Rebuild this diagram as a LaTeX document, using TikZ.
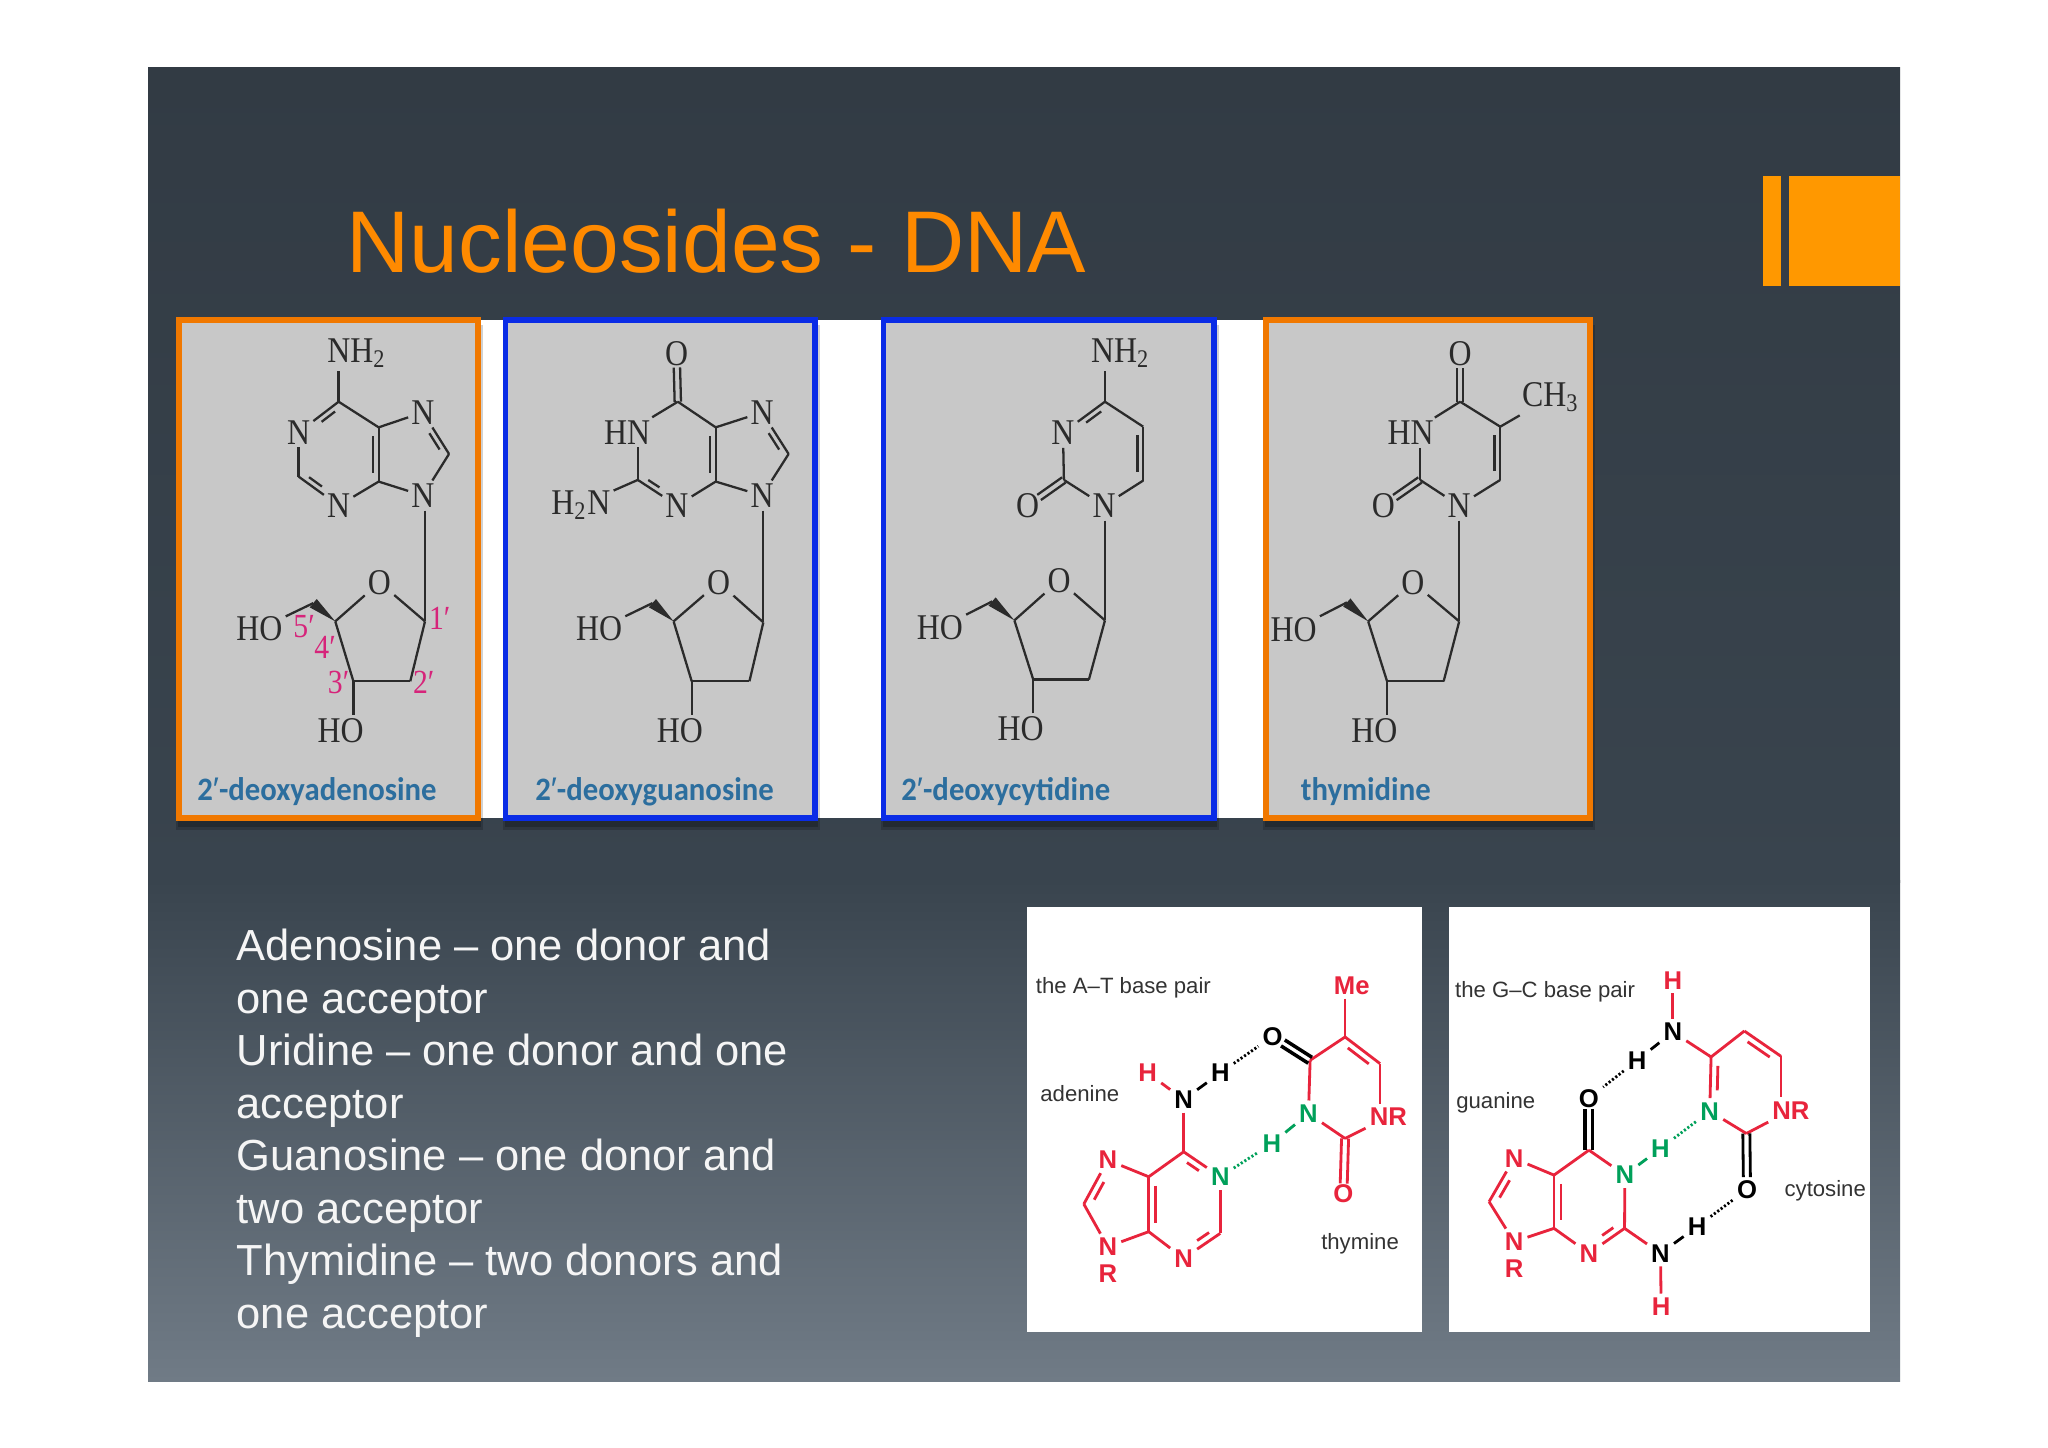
\documentclass[tikz,border=0pt]{standalone}
\usepackage{fontspec}
\setmainfont{Liberation Sans}
\newfontfamily\chemfont[FakeStretch=0.88]{Liberation Serif}
\newfontfamily\labelfont[FakeStretch=0.94]{Carlito}
\newfontfamily\primefont{Liberation Sans}
\usetikzlibrary{calc}
\definecolor{slidetop}{HTML}{323B44}
\definecolor{slidemid}{HTML}{39444E}
\definecolor{slidebot}{HTML}{707B86}
\definecolor{accent}{HTML}{FF9800}
\definecolor{titleor}{HTML}{FF8A00}
\definecolor{frameor}{HTML}{F07800}
\definecolor{frameblue}{HTML}{0A2CE6}
\definecolor{panelgray}{HTML}{C8C8C8}
\definecolor{inkc}{HTML}{2B2B2B}
\definecolor{capc}{HTML}{333333}
\definecolor{pinkc}{HTML}{D6247A}
\definecolor{labelblue}{HTML}{2C6E9E}
\definecolor{redc}{HTML}{E8243C}
\definecolor{greenc}{HTML}{00A05A}
\newcommand\lprime{{\primefont\mdseries ′}}
\tikzset{
  zoomA/.style={xshift=1.70cm,yshift=-3.10cm,x=0.004209cm,y=-0.003333cm},
  zoomB/.style={xshift=8.70cm,yshift=-3.10cm,x=0.004719cm,y=-0.003333cm},
  zoomC/.style={xshift=10.20cm,yshift=-9.00cm,x=0.003333cm,y=-0.003333cm},
  zoomD/.style={xshift=14.40cm,yshift=-9.00cm,x=0.003333cm,y=-0.003333cm},
  mol/.style={line width=0.65pt,color=inkc},
  chem/.style={font=\chemfont\fontsize{10.3}{12}\selectfont,text=inkc,inner sep=0.6pt},
  num/.style={font=\chemfont\fontsize{9.6}{12}\selectfont,text=pinkc,inner sep=0pt},
  lab/.style={font=\labelfont\bfseries\fontsize{9.3}{11}\selectfont,text=labelblue,anchor=base west,inner sep=0pt},
  pair/.style={line width=0.8pt,color=redc},
  ar/.style={font=\bfseries\fontsize{7.3}{8}\selectfont,text=redc,inner sep=0.8pt},
  ak/.style={font=\bfseries\fontsize{7.3}{8}\selectfont,text=black,inner sep=0.8pt},
  ag/.style={font=\bfseries\fontsize{7.3}{8}\selectfont,text=greenc,inner sep=0.8pt},
  capt/.style={font=\fontsize{6.3}{8}\selectfont,text=capc,inner sep=0pt},
  kb/.style={color=black},
  gb/.style={color=greenc},
  hb/.style={line width=0.8pt,dash pattern=on 0.6pt off 0.6pt},
  panelbox/.style={fill=panelgray,line width=1.7pt},
}
\newcommand\dbl[4][]{\draw (#2)--(#3);
  \draw[shorten <=2.5pt,shorten >=2.5pt,#1] ($(#2)!#4!90:(#3)$)--($(#3)!#4!-90:(#2)$);}
\newcommand\dsym[4][]{%
  \draw[#1] ($(#2)!#4!90:(#3)$)--($(#3)!#4!-90:(#2)$);
  \draw[#1] ($(#2)!#4!-90:(#3)$)--($(#3)!#4!90:(#2)$);}
\newcommand\sugarbonds{%
  \draw (so)--(cone); \draw (so)--(cfour); \draw (cfour)--(cthree);
  \draw (cthree)--(ctwo); \draw (ctwo)--(cone);
  \draw (ho3.north -| cthree)--(cthree); \draw (ho5)--(cfive);
  \fill (cfour)--($(cfive)!1.5pt!90:(cfour)$)--($(cfive)!1.6pt!-90:(cfour)$)--cycle;}
\begin{document}
\begin{tikzpicture}[x=0.01cm,y=-0.01cm]
\useasboundingbox (0,0) rectangle (2048,1447);
\fill[white] (0,0) rectangle (2048,1447);
% slide background
\shade[top color=slidetop,bottom color=slidemid] (148,67) rectangle (1900,882);
\shade[top color=slidemid,bottom color=slidebot] (148,880) rectangle (1900,1381);
\fill[accent] (1763,176) rectangle (1781,286);
\fill[accent] (1789,176) rectangle (1900,286);
\node[anchor=base west,inner sep=0pt,text=titleor,font=\fontsize{24.9}{30}\selectfont] (title) at (346,272) {Nucleosides - DNA};
% white strip behind panels
\fill[white] (480,320) rectangle (1266,818);
% shadows and panel boxes
\foreach \xa/\xb in {179/478,505.5/815,883.5/1214,1266/1590}{
  \fill[black,opacity=0.18] (\xa-3,325) rectangle (\xb+5,830);
  \fill[black,opacity=0.22] (\xa-1,325) rectangle (\xb+3,827);
}
\draw[panelbox,draw=frameor] (179,320) rectangle (478,818);
\draw[panelbox,draw=frameblue] (505.5,320) rectangle (815,818);
\draw[panelbox,draw=frameblue] (883.5,320) rectangle (1214,818);
\draw[panelbox,draw=frameor] (1266,320) rectangle (1590,818);

% ---- 2'-deoxyadenosine
\begin{scope}[zoomA,mol,name prefix=pa-]
\node[chem] (nh2) at (443,130) {NH\textsubscript{2}};
\node[chem] (n1) at (305,367) {N};
\node[chem] (n7) at (600,307) {N};
\node[chem] (n3) at (400,587) {N};
\node[chem] (n9) at (600,557) {N};
\coordinate (c6) at (400,275); \coordinate (c5) at (495,352);
\coordinate (c4) at (495,515); \coordinate (c2) at (305,500);
\coordinate (c8) at (662,432);
\draw (nh2.south -| c6)--(c6);
\dbl[shorten >=7pt]{c6}{n1}{1.6pt}
\draw (c6)--(c5); \draw (c5)--(n7);
\dbl[shorten >=6pt]{c8}{n7}{1.6pt}
\draw (c8)--(n9); \draw (n9)--(c4);
\dbl{c4}{c5}{1.6pt}
\draw (c4)--(n3); \draw (n1)--(c2);
\dbl[shorten >=7pt]{c2}{n3}{1.6pt}
\node[chem] (so) at (497,818) {O};
\node[chem] (ho5) at (212,958) {HO};
\node[chem] (ho3) at (405,1262) {HO};
\coordinate (cone) at (605,935); \coordinate (cfour) at (392,935);
\coordinate (cthree) at (435,1115); \coordinate (ctwo) at (570,1115);
\coordinate (cfive) at (340,880);
\draw (n9.south -| cone)--(cone);
\sugarbonds
\node[num] (l5) at (318,950) {5′};
\node[num] (l4) at (368,1012) {4′};
\node[num] (l3) at (400,1118) {3′};
\node[num] (l2) at (602,1118) {2′};
\node[num] (l1) at (640,925) {1′};
\node[lab] (name) at (62,1473) {2\lprime-deoxyadenosine};
\end{scope}

% ---- 2'-deoxyguanosine
\begin{scope}[zoomA,mol,name prefix=pg-]
\node[chem] (ox) at (1202,130) {O};
\node[chem] (hn) at (1085,367) {HN};
\node[chem] (n7) at (1405,307) {N};
\node[chem] (n3) at (1203,587) {N};
\node[chem] (n9) at (1405,557) {N};
\node[chem] (h2n) at (975,585) {H\textsubscript{2}N};
\coordinate (c6) at (1205,275); \coordinate (c5) at (1295,352);
\coordinate (c4) at (1295,515); \coordinate (c2) at (1110,510);
\coordinate (c8) at (1468,432);
\dsym[shorten >=4pt]{c6}{ox}{0.9pt}
\draw (c6)--(hn); \draw (hn.south -| c2)--(c2); \draw (h2n)--(c2);
\draw (c6)--(c5); \draw (c5)--(n7);
\dbl[shorten >=6pt]{c8}{n7}{1.6pt}
\draw (c8)--(n9); \draw (n9)--(c4);
\dbl{c4}{c5}{1.6pt}
\draw (c4)--(n3);
\dbl[shorten >=7pt]{c2}{n3}{1.6pt}
\node[chem] (so) at (1302,818) {O};
\node[chem] (ho5) at (1018,958) {HO};
\node[chem] (ho3) at (1210,1262) {HO};
\coordinate (cone) at (1408,938); \coordinate (cfour) at (1195,935);
\coordinate (cthree) at (1238,1115); \coordinate (ctwo) at (1375,1115);
\coordinate (cfive) at (1145,880);
\draw (n9.south -| cone)--(cone);
\sugarbonds
\node[lab] (name) at (864,1473) {2\lprime-deoxyguanosine};
\end{scope}

% ---- 2'-deoxycytidine
\begin{scope}[zoomB,mol,name prefix=pc-]
\node[chem] (nh2) at (530,130) {NH\textsubscript{2}};
\node[chem] (n3) at (408,368) {N};
\node[chem] (n1) at (495,587) {N};
\node[chem] (ox) at (333,587) {O};
\coordinate (c4) at (497,275); \coordinate (c5) at (578,350);
\coordinate (c6) at (578,512); \coordinate (c2) at (410,510);
\draw (nh2.south -| c4)--(c4);
\dbl[shorten >=7pt]{c4}{n3}{1.6pt}
\draw (c4)--(c5);
\dbl{c6}{c5}{1.6pt}
\draw (c6)--(n1); \draw (n1)--(c2); \draw (n3)--(c2);
\dsym[shorten >=4pt]{c2}{ox}{0.9pt}
\node[chem] (so) at (400,812) {O};
\node[chem] (ho5) at (147,955) {HO};
\node[chem] (ho3) at (318,1258) {HO};
\coordinate (cone) at (497,932); \coordinate (cfour) at (305,932);
\coordinate (cthree) at (345,1110); \coordinate (ctwo) at (463,1110);
\coordinate (cfive) at (258,875);
\draw (n1.south -| cone)--(cone);
\sugarbonds
\node[lab] (name) at (63,1473) {2\lprime-deoxycytidine};
\end{scope}

% ---- thymidine
\begin{scope}[zoomB,mol,name prefix=pt-]
\node[chem] (ox) at (1250,130) {O};
\node[chem] (ch3) at (1442,262) {CH\textsubscript{3}};
\node[chem] (hn) at (1145,368) {HN};
\node[chem] (n1) at (1248,587) {N};
\node[chem] (ot) at (1087,587) {O};
\coordinate (c4) at (1250,275); \coordinate (c5) at (1335,350);
\coordinate (c6) at (1335,510); \coordinate (c2) at (1165,510);
\dsym[shorten >=4pt]{c4}{ox}{0.9pt}
\draw (c4)--(hn); \draw (c4)--(c5); \draw (c5)--(ch3);
\dbl{c6}{c5}{1.6pt}
\draw (c6)--(n1); \draw (n1)--(c2); \draw (hn.south -| c2)--(c2);
\dsym[shorten >=4pt]{c2}{ot}{0.9pt}
\node[chem] (so) at (1150,818) {O};
\node[chem] (ho5) at (897,960) {HO};
\node[chem] (ho3) at (1068,1262) {HO};
\coordinate (cone) at (1248,935); \coordinate (cfour) at (1055,935);
\coordinate (cthree) at (1095,1115); \coordinate (ctwo) at (1215,1115);
\coordinate (cfive) at (1010,878);
\draw (n1.south -| cone)--(cone);
\sugarbonds
\node[lab] (name) at (910,1473) {thymidine};
\end{scope}

% body text
\node[anchor=north west,inner sep=0pt,align=left,text=white!96!black,font=\fontsize{12.37}{14.93}\selectfont] (body) at (236,928.5)
{Adenosine – one donor and\\one acceptor\\Uridine – one donor and one\\acceptor\\Guanosine – one donor and\\two acceptor\\Thymidine – two donors and\\one acceptor};

% ---- A-T base pair
\fill[white] (1027,907) rectangle (1422,1332);
\begin{scope}[zoomC,pair,name prefix=at-]
\node[capt,anchor=base west] (ttl) at (42,280) {the A–T base pair};
\node[capt] (aden) at (178,580) {adenine};
\node[capt] (thym) at (1020,1032) {thymine};
\node[ar] (me) at (995,255) {Me};
\node[ak] (otop) at (757,408) {O};
\node[ag] (n3) at (865,640) {N};
\node[ar] (nr) at (1105,650) {NR};
\node[ar] (obot) at (970,882) {O};
\node[ag] (ht) at (755,730) {H};
\node[ak] (hk) at (600,518) {H};
\node[ak] (nk) at (490,598) {N};
\node[ar] (hr) at (382,518) {H};
\node[ag] (n1a) at (600,830) {N};
\node[ar] (n7) at (262,780) {N};
\node[ar] (n9) at (262,1040) {N};
\node[ar] (rr) at (262,1120) {R};
\node[ar] (n3a) at (490,1075) {N};
\coordinate (c5) at (975,410); \coordinate (c4) at (870,480);
\coordinate (c6) at (1080,490); \coordinate (c2) at (975,715);
\coordinate (c6a) at (490,755); \coordinate (c5a) at (385,830);
\coordinate (c4a) at (385,995); \coordinate (c8) at (190,912);
\coordinate (c2a) at (600,1000);
\draw (me.south -| c5)--(c5); \draw (c4)--(c5);
\dbl{c6}{c5}{2pt}
\draw (c6)--(nr.north -| c6); \draw (c4)--(n3); \draw (n3)--(c2); \draw (nr)--(c2);
\dsym[shorten >=3pt]{c2}{obot}{1pt}
\dsym[kb,shorten >=3.5pt,line width=1pt]{c4}{otop}{1pt}
\draw[gb] (n3)--(ht);
\draw[hb,gb] (n1a)--(ht);
\draw[hb,kb] (hk)--(otop);
\draw[kb] (nk)--(hk);
\draw (hr)--(nk);
\draw (nk)--(c6a);
\dbl[shorten <=6pt]{n1a}{c6a}{2pt}
\draw (c6a)--(c5a); \draw (c5a)--(n7);
\dbl[shorten <=6pt]{n7}{c8}{2pt}
\draw (c8)--(n9); \draw (n9)--(c4a);
\dbl{c5a}{c4a}{2pt}
\draw (c4a)--(n3a);
\dbl[shorten <=6pt]{n3a}{c2a}{2pt}
\draw (c2a)--(n1a);
\end{scope}

% ---- G-C base pair
\fill[white] (1449,907) rectangle (1870,1332);
\begin{scope}[zoomD,pair,name prefix=gc-]
\node[capt,anchor=base west] (ttl) at (39,290) {the G–C base pair};
\node[capt] (guan) at (165,608) {guanine};
\node[capt] (cyto) at (1155,871) {cytosine};
\node[ar] (hr1) at (697,240) {H};
\node[ak] (nk1) at (697,395) {N};
\node[ak] (hk1) at (590,480) {H};
\node[ak] (og) at (445,594) {O};
\node[ag] (n1) at (553,825) {N};
\node[ag] (hg) at (660,745) {H};
\node[ag] (n3c) at (808,633) {N};
\node[ar] (nr) at (1052,630) {NR};
\node[ak] (oc) at (920,868) {O};
\node[ak] (hk2) at (770,980) {H};
\node[ak] (nk2) at (660,1060) {N};
\node[ar] (hr2) at (662,1220) {H};
\node[ar] (n3g) at (445,1060) {N};
\node[ar] (n7) at (220,775) {N};
\node[ar] (n9) at (220,1025) {N};
\node[ar] (rr) at (220,1105) {R};
\coordinate (c4c) at (812,470); \coordinate (c5c) at (912,392);
\coordinate (c6c) at (1022,468); \coordinate (c2c) at (918,700);
\coordinate (c6g) at (445,750); \coordinate (c2g) at (552,985);
\coordinate (c4g) at (340,985); \coordinate (c5g) at (340,825);
\coordinate (c8) at (145,905);
\draw (hr1)--(nk1);
\draw[kb] (nk1)--(hk1);
\draw[hb,kb] (hk1)--(og);
\dsym[kb,shorten >=3pt,line width=1.1pt]{c6g}{og}{1pt}
\draw (nk1)--(c4c);
\dbl[shorten >=6pt]{c4c}{n3c}{2pt}
\draw (c4c)--(c5c);
\dbl{c6c}{c5c}{2pt}
\draw (c6c)--(nr.north -| c6c);
\draw (n3c)--(c2c); \draw (nr)--(c2c);
\dsym[kb,shorten >=3.5pt]{c2c}{oc}{1pt}
\draw[hb,kb] (hk2)--(oc);
\draw[kb] (nk2)--(hk2);
\draw (hr2)--(nk2);
\draw (c2g)--(nk2);
\draw (n1)--(c2g);
\draw (c6g)--(n1);
\draw[gb] (n1)--(hg);
\draw[hb,gb] (hg)--(n3c);
\draw (c6g)--(c5g);
\draw (c5g)--(n7);
\dbl[shorten <=6pt]{n7}{c8}{2pt}
\draw (c8)--(n9); \draw (n9)--(c4g);
\dbl{c5g}{c4g}{2pt}
\draw (c4g)--(n3g);
\dbl[shorten <=6pt]{n3g}{c2g}{2pt}
\end{scope}
\end{tikzpicture}
\end{document}
